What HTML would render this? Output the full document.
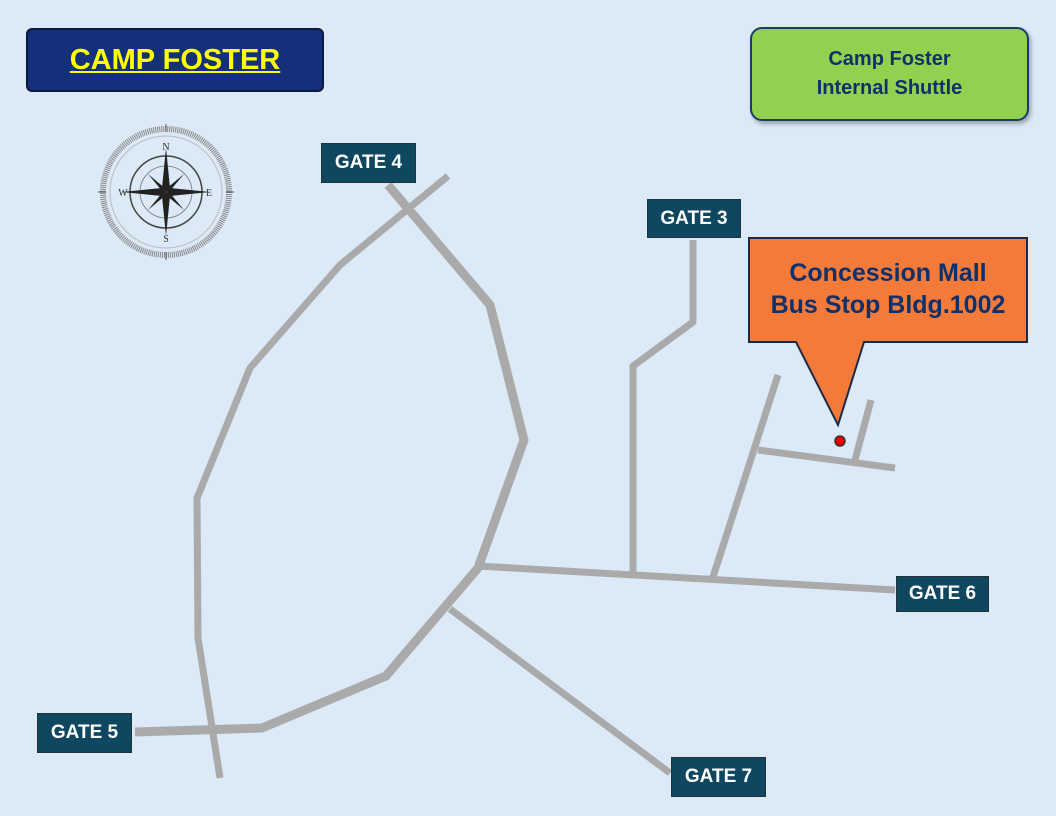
<!DOCTYPE html>
<html><head><style>
body{margin:0;width:1056px;height:816px;background:#dce9f6;position:relative;overflow:hidden;font-family:"Liberation Sans",sans-serif}
.g{position:absolute;background:#0f4760;color:#fff;font-weight:bold;font-size:19px;border:1px solid #233;display:flex;align-items:center;justify-content:center;box-sizing:border-box}
</style></head><body>
<svg width="1056" height="816" style="position:absolute;left:0;top:0">
<g fill="none" stroke="#aaaaaa" stroke-linejoin="round">
<polyline stroke-width="7" points="448,176 340,265 250,368 197,498 198,638 220,778"/>
<polyline stroke-width="9" points="388,185 490,305 524,440 478,568 386,676 262,728 135,732"/>
<polyline stroke-width="7" points="478,566 895,590"/>
<polyline stroke-width="7" points="693,240 693,322 633,366 633,574"/>
<polyline stroke-width="7" points="778,375 713,577"/>
<polyline stroke-width="7" points="758,450 895,468"/>
<polyline stroke-width="7" points="871,400 855,460"/>
<polyline stroke-width="7" points="450,609 670,773"/>
</g>
<g transform="translate(166,192)" fill="none" stroke="#555">
<circle r="63" stroke="#888" stroke-width="6" stroke-dasharray="1 1"/>
<circle r="56" stroke="#bbb"/>
<circle r="36" stroke="#444" stroke-width="1.5"/>
<circle r="26" stroke="#888"/>
<line x1="0" y1="-68" x2="0" y2="-60"/><line x1="0" y1="60" x2="0" y2="68"/>
<line x1="-68" y1="0" x2="-60" y2="0"/><line x1="60" y1="0" x2="68" y2="0"/>
<g fill="#222" stroke="none">
<polygon points="0,-44 4,-4 0,0 -4,-4"/><polygon points="0,44 4,4 0,0 -4,4"/>
<polygon points="-44,0 -4,-4 0,0 -4,4"/><polygon points="44,0 4,-4 0,0 4,4"/>
<polygon points="-18,-18 0,-3 -3,0"/><polygon points="18,-18 0,-3 3,0"/>
<polygon points="-18,18 0,3 -3,0"/><polygon points="18,18 0,3 3,0"/>
</g>
<g fill="#333" stroke="none" font-family="Liberation Serif" font-size="10" text-anchor="middle">
<text x="0" y="-42">N</text><text x="0" y="50">S</text><text x="-43" y="4">W</text><text x="43" y="4">E</text>
</g>
</g>
<path d="M749,238 H1027 V342 H864 L838,425 L796,342 H749 Z" fill="#f47a3a" stroke="#1e2a48" stroke-width="2"/>
<circle cx="840" cy="441" r="5" fill="#e00" stroke="#333" stroke-width="1.5"/>
</svg>
<div style="position:absolute;left:26px;top:28px;width:298px;height:64px;background:#14307a;border:2px solid #0b1a40;border-radius:6px;box-sizing:border-box;display:flex;align-items:center;justify-content:center;color:#ffff00;font-weight:bold;font-size:29px;text-decoration:underline">CAMP FOSTER</div>
<div style="position:absolute;left:750px;top:27px;width:279px;height:94px;background:#92d050;border:2px solid #1e3c6b;border-radius:12px;box-sizing:border-box;display:flex;align-items:center;justify-content:center;text-align:center;color:#10306a;font-weight:bold;font-size:20px;line-height:29px;box-shadow:2px 3px 4px rgba(0,0,0,.3)">Camp Foster<br>Internal Shuttle</div>
<div style="position:absolute;left:749px;top:257px;width:278px;text-align:center;color:#10306a;font-weight:bold;font-size:25px;line-height:32px">Concession Mall<br>Bus Stop Bldg.1002</div>
<div class="g" style="left:321px;top:143px;width:95px;height:40px">GATE 4</div>
<div class="g" style="left:647px;top:199px;width:94px;height:39px">GATE 3</div>
<div class="g" style="left:896px;top:576px;width:93px;height:36px">GATE 6</div>
<div class="g" style="left:37px;top:713px;width:95px;height:40px">GATE 5</div>
<div class="g" style="left:671px;top:757px;width:95px;height:40px">GATE 7</div>
</body></html>
